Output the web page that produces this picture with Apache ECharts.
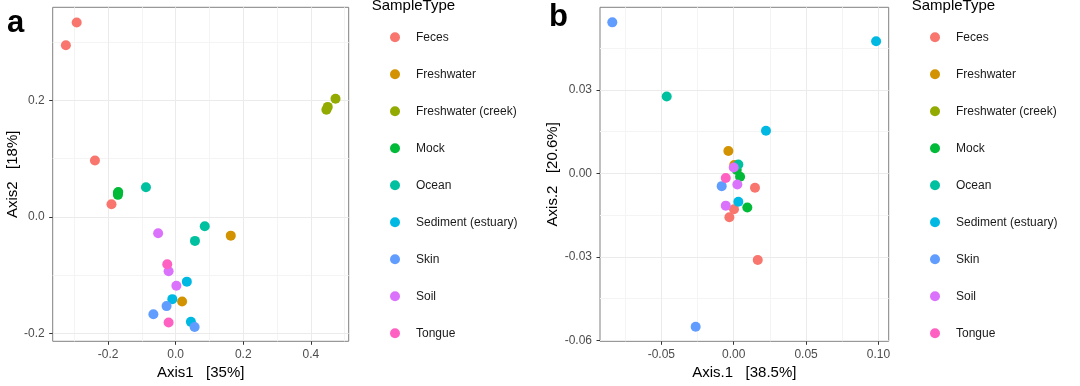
<!DOCTYPE html>
<html>
<head>
<meta charset="utf-8">
<script src="https://cdn.jsdelivr.net/npm/echarts@6/dist/echarts.min.js"></script>
<style>
html,body{margin:0;padding:0;background:#fff;}
#chart{width:1080px;height:386px;}
</style>
</head>
<body>
<div id="chart"></div>
<script>
// ---------- data ----------
const categories = ['Feces','Freshwater','Freshwater (creek)','Mock','Ocean','Sediment (estuary)','Skin','Soil','Tongue'];

// Panel a
const aFeces      = [[-0.293,0.334],[-0.325,0.295],[-0.239,0.097],[-0.190,0.022]];
const aFreshwater = [[0.163,-0.032],[0.019,-0.145]];
const aCreek      = [[0.473,0.203],[0.450,0.189],[0.446,0.184]];
const aMock       = [[-0.170,0.043],[-0.171,0.038],[-0.171,0.041]];
const aOcean      = [[-0.088,0.051],[0.086,-0.016],[0.057,-0.041]];
const aSediment   = [[0.033,-0.111],[-0.010,-0.141],[0.045,-0.180]];
const aSkin       = [[-0.066,-0.167],[-0.027,-0.153],[0.056,-0.189]];
const aSoil       = [[-0.052,-0.028],[-0.021,-0.093],[0.002,-0.118]];
const aTongue     = [[-0.025,-0.081],[-0.021,-0.181]];

// Panel b
const bFeces      = [[0.0147,-0.0052],[0.0002,-0.0129],[-0.0030,-0.0158],[0.0166,-0.0311]];
const bFreshwater = [[-0.0037,0.0080],[0.0004,0.0030]];
const bCreek      = [[0.0012,0.0020]];
const bMock       = [[0.0021,0.0012],[0.0044,-0.0012],[0.0094,-0.0123]];
const bOcean      = [[-0.0463,0.0276],[0.0032,0.0032]];
const bSediment   = [[0.0984,0.0474],[0.0223,0.0153],[0.0032,-0.0102]];
const bSkin       = [[-0.0839,0.0542],[-0.0263,-0.0551],[-0.0083,-0.0046]];
const bSoil       = [[0.0000,0.0021],[0.0025,-0.0040],[-0.0055,-0.0116]];
const bTongue     = [[-0.0055,-0.0017]];

// tick values / labels
const aXTicks = [-0.2,0,0.2,0.4];
const aXMinor = [-0.3,-0.1,0.1,0.3,0.5];
const aYTicks = [-0.2,0,0.2];
const aYMinor = [-0.1,0.1,0.3];
const bXTicks = [-0.05,0,0.05,0.10];
const bXMinor = [-0.075,-0.025,0.025,0.075];
const bYTicks = [-0.06,-0.03,0,0.03];
const bYMinor = [-0.045,-0.015,0.015,0.045];

const aXTitle = 'Axis1   [35%]';
const aYTitle = 'Axis2   [18%]';
const bXTitle = 'Axis.1   [38.5%]';
const bYTitle = 'Axis.2   [20.6%]';

// ---------- style ----------
const colors = ['#F8766D','#D39200','#93AA00','#00BA38','#00C19F','#00B9E3','#619CFF','#DB72FB','#FF61C3'];
const FONT = '"Liberation Sans", Arial, Helvetica, sans-serif';

const aSeries = [aFeces,aFreshwater,aCreek,aMock,aOcean,aSediment,aSkin,aSoil,aTongue];
const bSeries = [bFeces,bFreshwater,bCreek,bMock,bOcean,bSediment,bSkin,bSoil,bTongue];

function majorAxis(kind, grid, min, max, ticks, dec, name, gap) {
  return {
    type:'value', gridIndex:grid, min:min, max:max,
    position: kind==='x' ? 'bottom' : 'left',
    name:name, nameLocation:'middle', nameGap:gap,
    nameTextStyle:{fontFamily:FONT,fontSize:15,color:'#000'},
    axisLine:{show:false,onZero:false},
    axisTick:{show:true,length:3.5,inside:false,customValues:ticks,lineStyle:{color:'#333',width:1}},
    axisLabel:{show:true,customValues:ticks,margin:kind==='x'?7:8,color:'#4D4D4D',fontFamily:FONT,fontSize:12,
      formatter:function(v){return v.toFixed(dec);}},
    splitLine:{show:true,lineStyle:{color:'#EBEBEB',width:1}},
    z:1
  };
}
function minorAxis(kind, grid, min, max, ticks) {
  return {
    type:'value', gridIndex:grid, min:min, max:max,
    position: kind==='x' ? 'top' : 'right',
    axisLine:{show:false,onZero:false},
    axisTick:{show:false,customValues:ticks},
    axisLabel:{show:false,customValues:ticks},
    splitLine:{show:true,lineStyle:{color:'#F4F4F4',width:1}},
    z:0
  };
}

const series = [];
categories.forEach(function(c,i){
  series.push({name:c,type:'scatter',xAxisIndex:0,yAxisIndex:0,data:aSeries[i],symbolSize:10,
    itemStyle:{color:colors[i],opacity:1},emphasis:{disabled:true},z:3});
  series.push({name:c,type:'scatter',xAxisIndex:2,yAxisIndex:2,data:bSeries[i],symbolSize:10,
    itemStyle:{color:colors[i],opacity:1},emphasis:{disabled:true},z:3});
});

function legend(left){
  return {
    data:categories, orient:'vertical', left:left, top:25.3, itemGap:23,
    itemWidth:10, itemHeight:10, icon:'circle', selectedMode:false,
    textStyle:{fontFamily:FONT,fontSize:12,color:'#1A1A1A',lineHeight:14,padding:[0,0,0,11]}
  };
}

const option = {
  animation:false,
  color:colors,
  grid:[
    {left:52.7,top:7.3,width:296,height:334,show:true,borderColor:'#808080',borderWidth:1,backgroundColor:'rgba(0,0,0,0)',containLabel:false},
    {left:600,top:7.3,width:288.7,height:334,show:true,borderColor:'#808080',borderWidth:1,backgroundColor:'rgba(0,0,0,0)',containLabel:false}
  ],
  xAxis:[
    majorAxis('x',0,-0.364,0.512,aXTicks,1,aXTitle,21),
    minorAxis('x',0,-0.364,0.512,aXMinor),
    majorAxis('x',1,-0.0924,0.1071,bXTicks,2,bXTitle,21),
    minorAxis('x',1,-0.0924,0.1071,bXMinor)
  ],
  yAxis:[
    majorAxis('y',0,-0.2134,0.360,aYTicks,1,aYTitle,29),
    minorAxis('y',0,-0.2134,0.360,aYMinor),
    majorAxis('y',1,-0.0603,0.0596,bYTicks,2,bYTitle,36),
    minorAxis('y',1,-0.0603,0.0596,bYMinor)
  ],
  legend:[legend(385), legend(925)],
  graphic:[
    {type:'text',left:7,top:8,style:{text:'a',font:'bold 31px '+FONT,fill:'#000'}},
    {type:'text',left:549,top:2,style:{text:'b',font:'bold 31px '+FONT,fill:'#000'}},
    {type:'text',left:371.7,top:-2,style:{text:'SampleType',font:'15px '+FONT,fill:'#000'}},
    {type:'text',left:911.7,top:-2,style:{text:'SampleType',font:'15px '+FONT,fill:'#000'}}
  ],
  series:series
};

const chart = echarts.init(document.getElementById('chart'),null,{renderer:'canvas'});
chart.setOption(option);
</script>
</body>
</html>
